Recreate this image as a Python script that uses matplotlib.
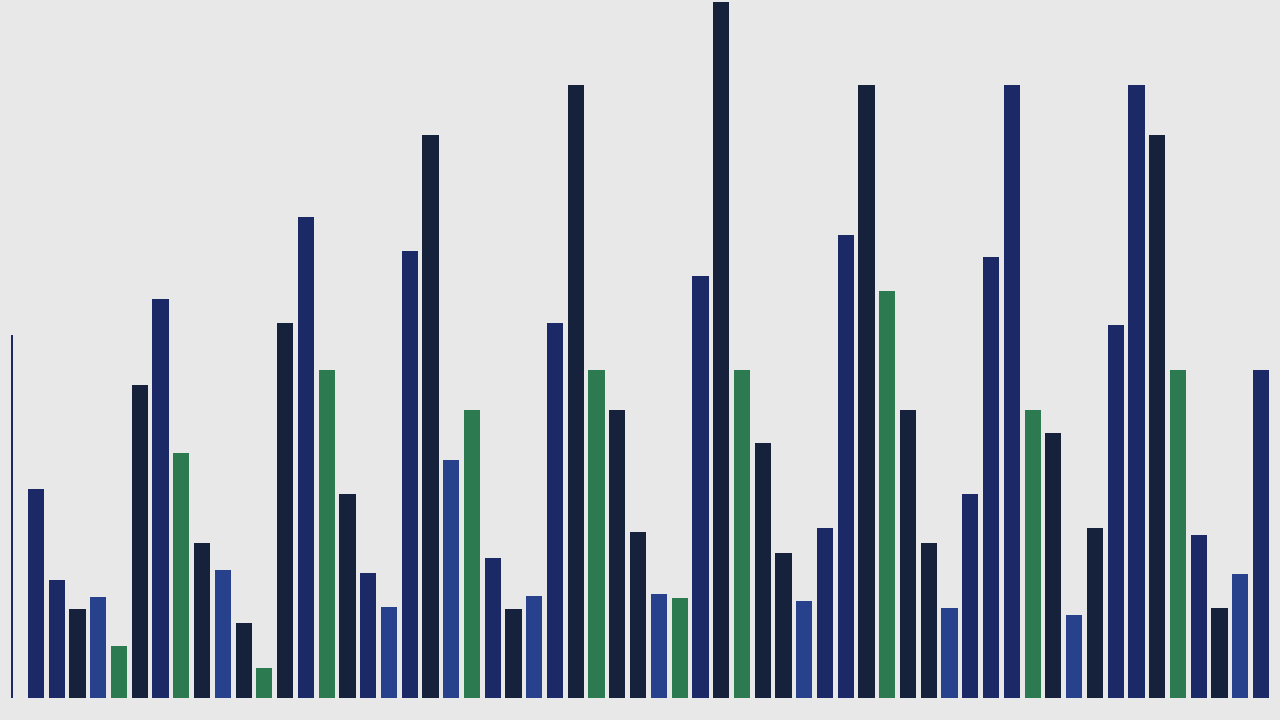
import matplotlib
matplotlib.use("Agg")
import matplotlib.pyplot as plt

# Bar heights (arbitrary units)
heights = [
    209, 118, 89, 101, 52, 313, 399, 245, 155, 128,
    75, 30, 375, 481, 328, 204, 125, 91, 447, 563,
    238, 288, 140, 89, 102, 375, 613, 328, 288, 166,
    104, 100, 422, 696, 328, 255, 145, 97, 170, 463,
    613, 407, 288, 155, 90, 204, 441, 613, 288, 265,
    83, 170, 373, 613, 563, 328, 163, 90, 124, 328,
]
# Colour group of each bar: D dark, N navy, M mid blue, G green
groups = list(
    "NNDMGDNGDMDGDNGDNMNDMGNDMNDGDDMGNDGDDMNNDGDDMNNNGDMDNNDGNDMN"
)
# Thin marker line at the far left
marker_height = 363

palette = {"D": "#16213b", "N": "#1b2a66", "M": "#27418c", "G": "#2b7a50"}
colors = [palette[g] for g in groups]
x = list(range(len(heights)))

fig = plt.figure(figsize=(12.8, 7.2), dpi=100, facecolor="#e8e8e8")
ax = fig.add_axes([0, 22 / 720, 1, 698 / 720])
ax.set_facecolor("#e8e8e8")

ax.bar(x, heights, width=0.78, color=colors, edgecolor="none")
ax.bar([-1.16], [marker_height], width=0.1, color="#1b2a66", edgecolor="none")

ax.set_xlim(-1.734, 59.915)
ax.set_ylim(0, 698)
ax.axis("off")

fig.savefig("out.png", dpi=100, facecolor=fig.get_facecolor())
